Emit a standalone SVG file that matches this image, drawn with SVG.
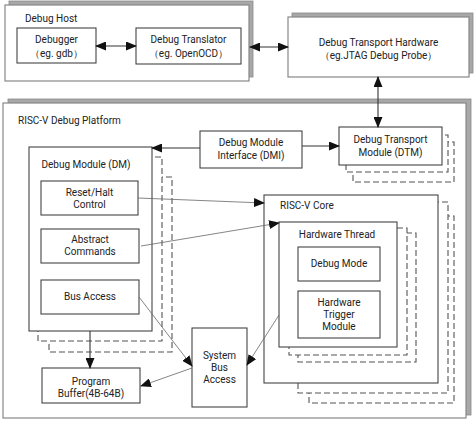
<svg xmlns="http://www.w3.org/2000/svg" width="474" height="422" viewBox="0 0 474 422">
<style>
text{font-family:Roboto,"Liberation Sans",Arial,sans-serif;font-size:10px;fill:#222}
.c{text-anchor:middle}
.box{fill:#fff;stroke:#444;stroke-width:1.1}
.outer{fill:#fff;stroke:#888;stroke-width:1.2}
.shadow{fill:#a8a8a8;stroke:#888;stroke-width:0.8}
.dash{fill:#fff;stroke:#555;stroke-width:1.1;stroke-dasharray:6 3}
.ln{fill:none;stroke:#333;stroke-width:1.1}
.tl{fill:none;stroke:#666;stroke-width:0.8}
</style>
<defs>
<marker id="ah" markerUnits="userSpaceOnUse" markerWidth="11" markerHeight="9" refX="10" refY="4.5" orient="auto-start-reverse" viewBox="0 0 11 9">
<path d="M0,0 L11,4.5 L0,9 z" fill="#111"/>
</marker>
</defs>
<rect width="474" height="422" fill="#fff"/>

<g id="debug-host">
<rect class="shadow" x="9" y="1" width="244" height="76"/>
<rect class="outer" x="5" y="5" width="244" height="76"/>
<text x="25" y="22">Debug Host</text>
</g>
<g id="debugger">
<rect class="box" x="17" y="28" width="79" height="35"/>
<text class="c" x="56.5" y="43">Debugger</text>
<text class="c" x="56.5" y="57">（eg. gdb）</text>
</g>
<g id="debug-translator">
<rect class="box" x="136" y="28" width="105" height="36"/>
<text class="c" x="188.5" y="43">Debug Translator</text>
<text class="c" x="188.5" y="57">（eg. OpenOCD）</text>
</g>
<g id="debug-transport-hardware">
<rect class="shadow" x="292" y="13" width="181" height="60"/>
<rect class="outer" x="288" y="17" width="181" height="60"/>
<text class="c" x="378.5" y="46">Debug Transport Hardware</text>
<text class="c" x="378.5" y="59">（eg.JTAG Debug Probe）</text>
</g>

<g id="platform">
<rect class="shadow" x="8" y="99" width="463" height="316"/>
<rect class="outer" x="3" y="103" width="463" height="315"/>
<text x="18" y="124">RISC-V Debug Platform</text>
</g>

<g id="dmi">
<rect class="box" x="200" y="131" width="102" height="37"/>
<text class="c" x="251" y="146">Debug Module</text>
<text class="c" x="251" y="159">Interface (DMI)</text>
</g>
<g id="dtm">
<rect class="dash" x="353" y="142" width="101" height="40"/>
<rect class="dash" x="346" y="135" width="102" height="37"/>
<rect class="box" x="339" y="127" width="103" height="38"/>
<text class="c" x="390.5" y="143">Debug Transport</text>
<text class="c" x="390.5" y="156">Module (DTM)</text>
</g>

<g id="dm">
<rect class="dash" x="49" y="177" width="123" height="175"/>
<rect class="dash" x="38" y="157" width="124" height="184"/>
<rect class="box" x="29" y="147" width="123" height="184"/>
<text class="c" x="86" y="168">Debug Module (DM)</text>
</g>
<g id="reset-halt">
<rect class="box" x="41" y="181" width="97" height="34"/>
<text class="c" x="89.5" y="196">Reset/Halt</text>
<text class="c" x="89.5" y="208">Control</text>
</g>
<g id="abstract-commands">
<rect class="box" x="41" y="229" width="98" height="34"/>
<text class="c" x="90" y="243">Abstract</text>
<text class="c" x="90" y="255">Commands</text>
</g>
<g id="bus-access">
<rect class="box" x="41" y="280" width="98" height="34"/>
<text class="c" x="90" y="300">Bus Access</text>
</g>
<g id="program-buffer">
<rect class="box" x="42" y="368" width="98" height="35"/>
<text class="c" x="91" y="385">Program</text>
<text class="c" x="91" y="397">Buffer(4B-64B)</text>
</g>
<g id="system-bus-access">
<rect class="box" x="192" y="328" width="55" height="79"/>
<text class="c" x="219.5" y="359">System</text>
<text class="c" x="219.5" y="371">Bus</text>
<text class="c" x="219.5" y="383">Access</text>
</g>

<g id="riscv-core">
<rect class="dash" x="309" y="216" width="145" height="187"/>
<rect class="dash" x="298" y="202" width="150" height="191"/>
<rect class="box" x="264" y="195" width="174" height="188"/>
<text x="280" y="209">RISC-V Core</text>
</g>
<g id="hardware-thread">
<rect class="dash" x="298" y="233" width="118" height="129"/>
<rect class="dash" x="289" y="228" width="118" height="127"/>
<rect class="box" x="279" y="222" width="118" height="125"/>
<text class="c" x="337" y="238">Hardware Thread</text>
</g>
<g id="debug-mode">
<rect class="box" x="298" y="247" width="82" height="34"/>
<text class="c" x="339" y="267">Debug Mode</text>
</g>
<g id="hardware-trigger">
<rect class="box" x="298" y="291" width="82" height="47"/>
<text class="c" x="339" y="306">Hardware</text>
<text class="c" x="339" y="318">Trigger</text>
<text class="c" x="339" y="330">Module</text>
</g>

<g id="connectors">
<line class="ln" x1="96" y1="46" x2="136" y2="46" marker-start="url(#ah)" marker-end="url(#ah)"/>
<line class="ln" x1="250" y1="47" x2="288" y2="47" marker-start="url(#ah)" marker-end="url(#ah)"/>
<line class="ln" x1="378" y1="77" x2="378" y2="127" marker-start="url(#ah)" marker-end="url(#ah)"/>
<line class="ln" x1="302" y1="146" x2="339" y2="146" marker-end="url(#ah)"/>
<line class="ln" x1="200" y1="148" x2="152" y2="148" marker-end="url(#ah)"/>
<line class="ln" x1="90" y1="331" x2="90" y2="368" marker-end="url(#ah)"/>
<line class="tl" x1="138" y1="198" x2="264" y2="203" marker-end="url(#ah)"/>
<line class="tl" x1="141" y1="246" x2="279" y2="223" marker-end="url(#ah)"/>
<line class="tl" x1="139" y1="297" x2="192" y2="366" marker-end="url(#ah)"/>
<line class="tl" x1="192" y1="368" x2="141" y2="386" marker-end="url(#ah)"/>
<line class="tl" x1="279" y1="315" x2="247" y2="365" marker-end="url(#ah)"/>
</g>
</svg>
